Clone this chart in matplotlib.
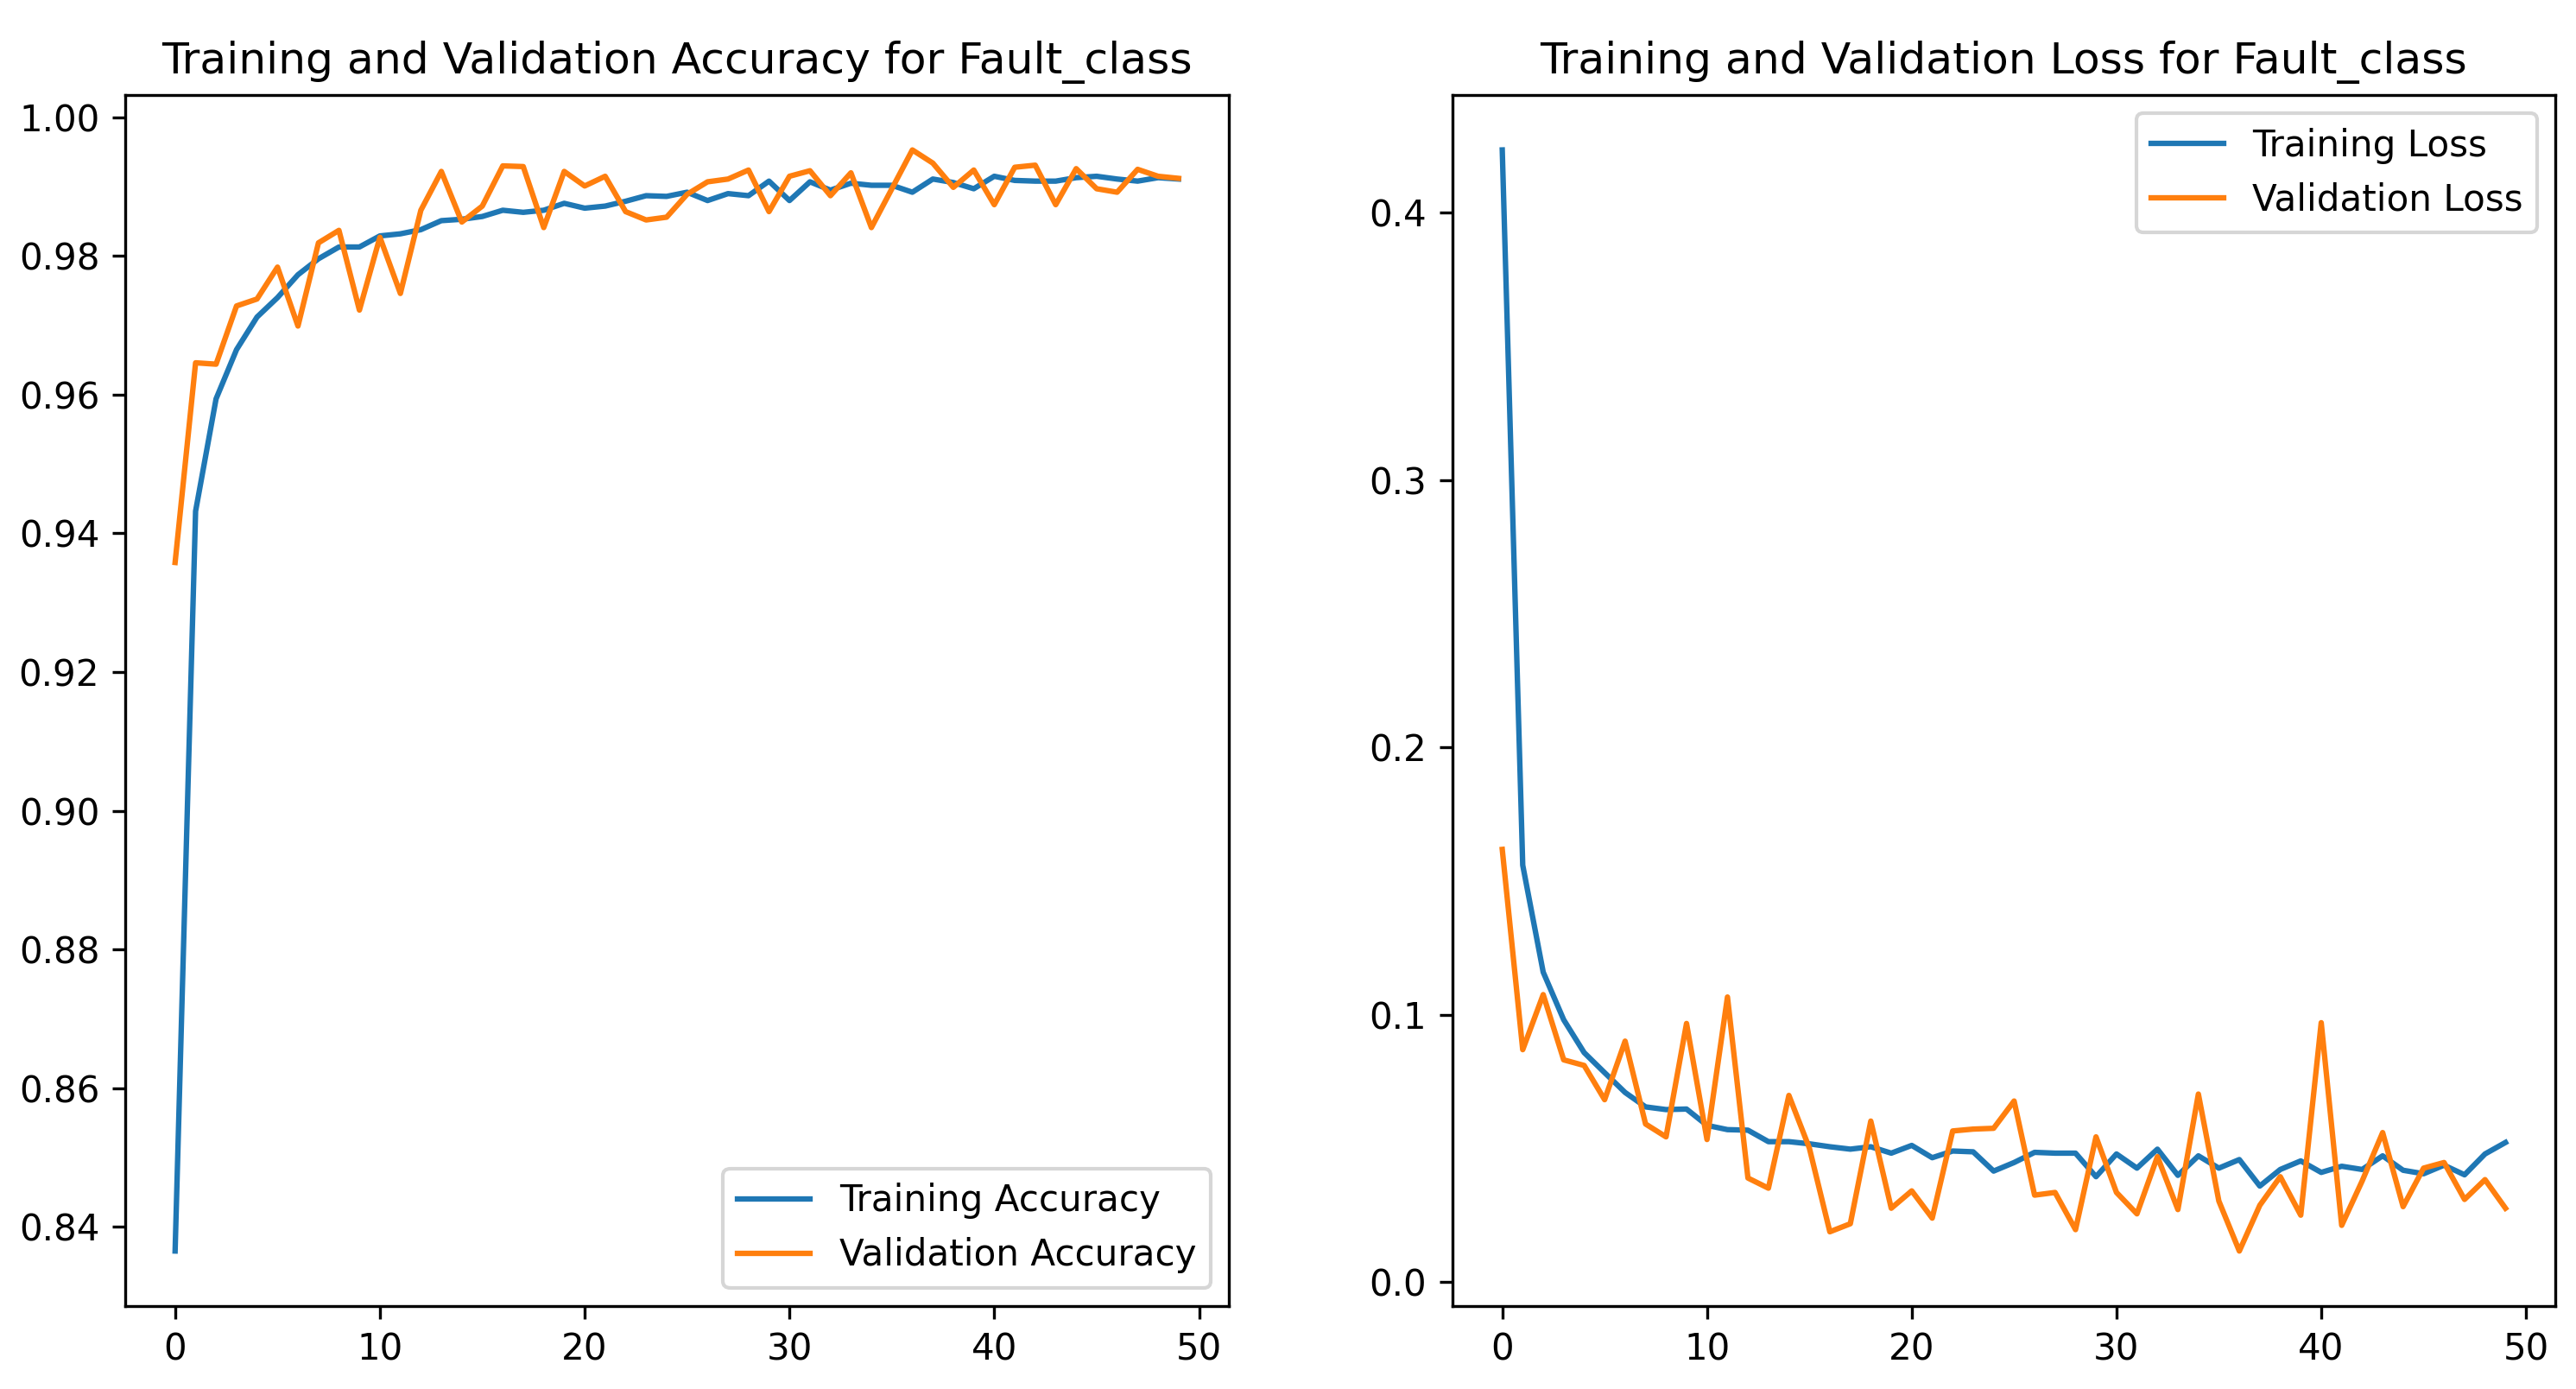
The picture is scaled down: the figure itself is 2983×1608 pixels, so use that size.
import numpy as np
import matplotlib
matplotlib.use("Agg")
import matplotlib.pyplot as plt

# history values (50 epochs)
epochs = list(range(50))

train_acc = [0.8365, 0.9432, 0.9594, 0.9665, 0.9712, 0.9740, 0.9773, 0.9796, 0.9813, 0.9813,
             0.9829, 0.9832, 0.9838, 0.9851, 0.9853, 0.9857, 0.9866, 0.9863, 0.9866, 0.9876,
             0.9869, 0.9872, 0.9879, 0.9887, 0.9886, 0.9892, 0.9880, 0.9890, 0.9887, 0.9908,
             0.9880, 0.9907, 0.9895, 0.9905, 0.9902, 0.9902, 0.9892, 0.9911, 0.9906, 0.9897,
             0.9915, 0.9909, 0.9908, 0.9908, 0.9913, 0.9915, 0.9911, 0.9908, 0.9913, 0.9911]

val_acc = [0.9358, 0.9646, 0.9644, 0.9728, 0.9738, 0.9784, 0.9699, 0.9819, 0.9837, 0.9722,
           0.9827, 0.9746, 0.9866, 0.9922, 0.9849, 0.9872, 0.9930, 0.9929, 0.9841, 0.9922,
           0.9901, 0.9915, 0.9864, 0.9852, 0.9856, 0.9889, 0.9907, 0.9911, 0.9924, 0.9864,
           0.9915, 0.9923, 0.9887, 0.9920, 0.9841, 0.9897, 0.9953, 0.9934, 0.9899, 0.9924,
           0.9874, 0.9928, 0.9931, 0.9874, 0.9926, 0.9897, 0.9892, 0.9925, 0.9915, 0.9912]

train_loss = [0.4235, 0.1560, 0.1160, 0.0982, 0.0859, 0.0784, 0.0710, 0.0656, 0.0646, 0.0648,
              0.0587, 0.0571, 0.0569, 0.0526, 0.0526, 0.0518, 0.0507, 0.0498, 0.0507, 0.0483,
              0.0512, 0.0466, 0.0491, 0.0488, 0.0416, 0.0448, 0.0486, 0.0483, 0.0483, 0.0395,
              0.0480, 0.0427, 0.0498, 0.0400, 0.0473, 0.0427, 0.0459, 0.0360, 0.0422, 0.0454,
              0.0411, 0.0434, 0.0422, 0.0473, 0.0419, 0.0406, 0.0438, 0.0402, 0.0480, 0.0523]

val_loss = [0.1619, 0.0870, 0.1076, 0.0832, 0.0811, 0.0683, 0.0902, 0.0592, 0.0544, 0.0968,
            0.0534, 0.1067, 0.0390, 0.0352, 0.0699, 0.0502, 0.0189, 0.0219, 0.0603, 0.0277,
            0.0342, 0.0240, 0.0566, 0.0573, 0.0576, 0.0678, 0.0326, 0.0336, 0.0197, 0.0544,
            0.0336, 0.0256, 0.0470, 0.0272, 0.0704, 0.0304, 0.0117, 0.0288, 0.0395, 0.0251,
            0.0971, 0.0213, 0.0379, 0.0560, 0.0283, 0.0427, 0.0448, 0.0310, 0.0384, 0.0277]

target_name = "Fault_class"

dpi = 302
fig = plt.figure(figsize=(2983 / dpi, 1608 / dpi), dpi=dpi)

ax1 = fig.add_axes([0.0485, 0.0597, 0.4285, 0.872])
ax1.plot(epochs, train_acc, label='Training Accuracy')
ax1.plot(epochs, val_acc, label='Validation Accuracy')
ax1.legend(loc='lower right')
ax1.set_title(f'Training and Validation Accuracy for {target_name}')

ax2 = fig.add_axes([0.5637, 0.0597, 0.4284, 0.872])
ax2.plot(epochs, train_loss, label='Training Loss')
ax2.plot(epochs, val_loss, label='Validation Loss')
ax2.legend(loc='upper right')
ax2.set_title(f'Training and Validation Loss for {target_name}')

fig.savefig("out.png", dpi=dpi)
